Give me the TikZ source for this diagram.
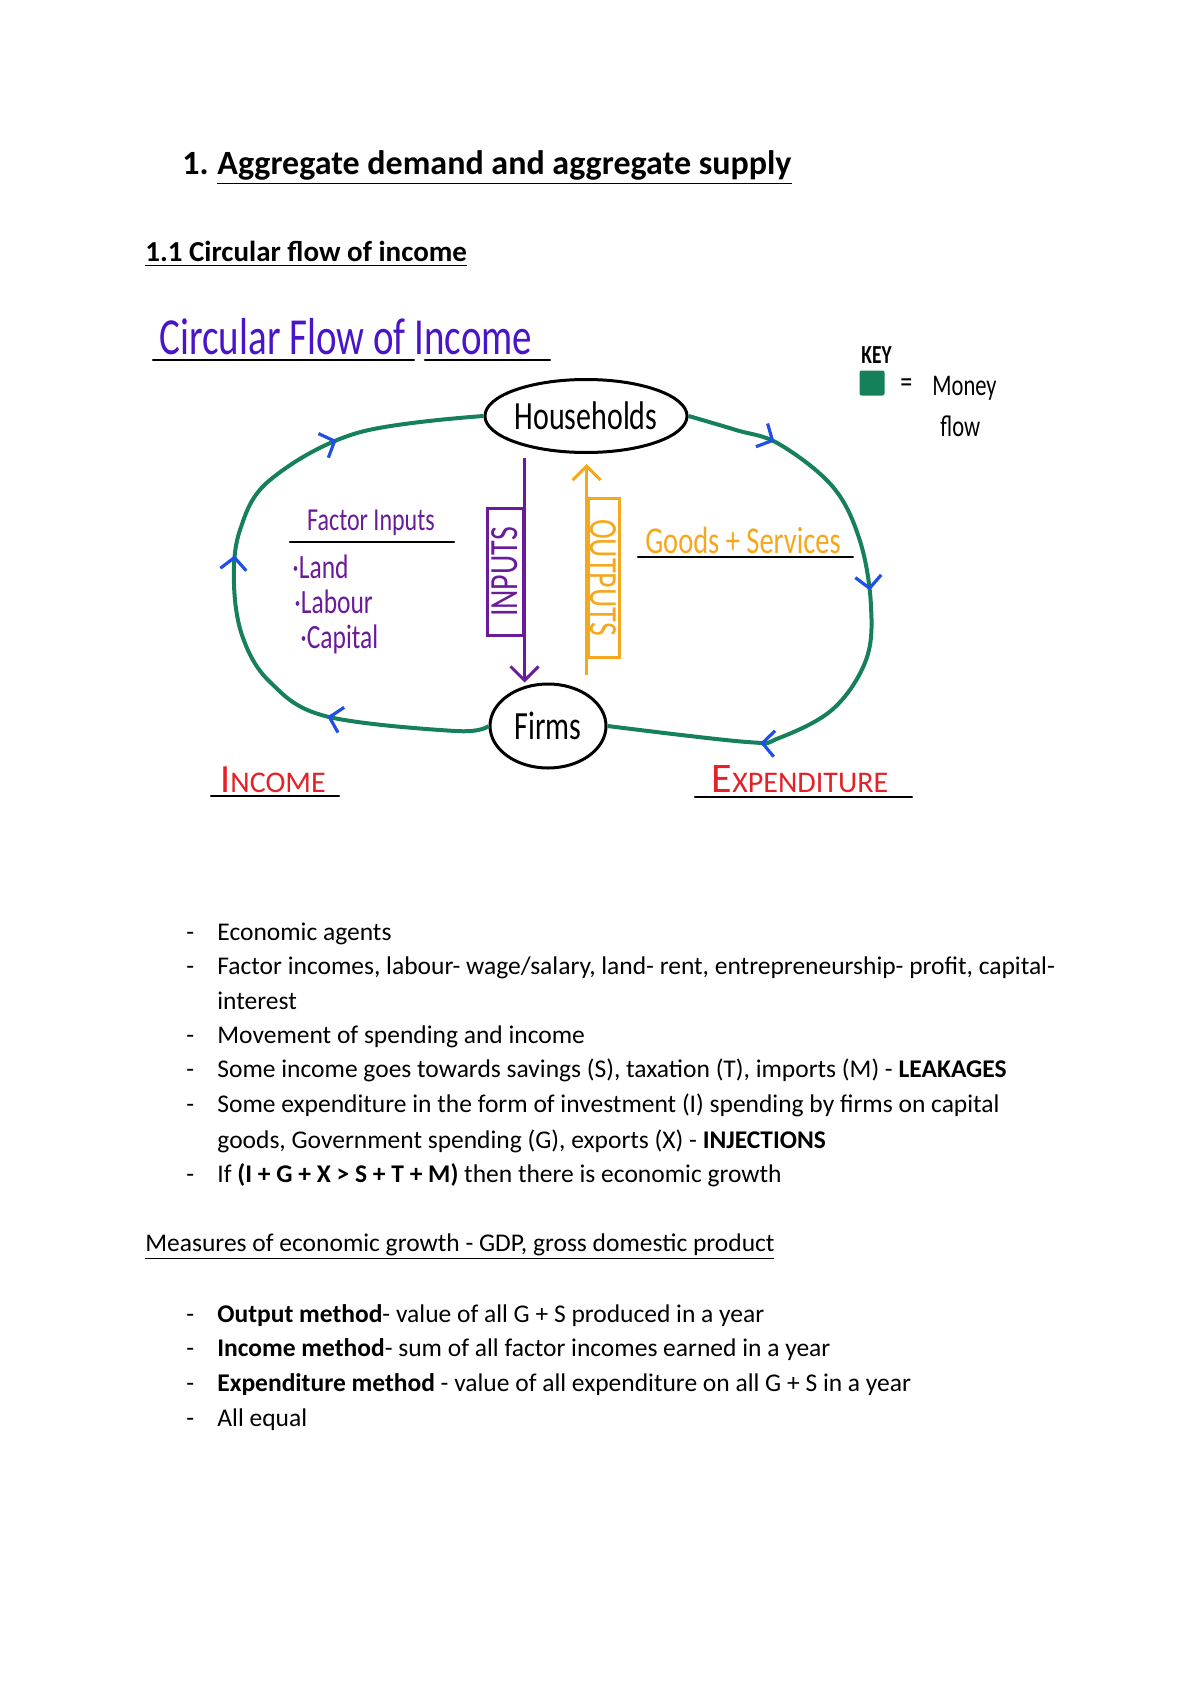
\documentclass[tikz,border=0pt]{standalone}
\usepackage{fontspec}
\setmainfont{Carlito}
\newfontfamily\hand[FakeStretch=0.75]{Carlito}
\usetikzlibrary{shapes.geometric,arrows.meta,decorations.markings}

\definecolor{moneygreen}{HTML}{16805A}
\definecolor{arrowblue}{HTML}{1F4FE6}
\definecolor{inpurple}{HTML}{6A1B9A}
\definecolor{titlepurple}{HTML}{4A14C8}
\definecolor{outorange}{HTML}{F5A81E}
\definecolor{labelred}{HTML}{E32127}

\tikzset{
  txt/.style={anchor=base west,inner sep=0pt,font=\fontsize{12.75}{15}\selectfont},
  blob/.style={draw,ellipse,line width=1.5pt,inner sep=0pt,font=\hand\fontsize{20}{24}\selectfont},
  money/.style={draw=moneygreen,line width=2pt},
  flowtip/.style={postaction={decorate,decoration={markings,
    mark=at position #1 with {\arrow[arrowblue,line width=1.6pt]{Straight Barb[length=6pt,width=13pt]}}}}},
  handlbl/.style={inner sep=0pt,font=\hand\fontsize{#1}{#1}\selectfont},
  uline/.style={line width=1.2pt,line cap=round},
  flowbox/.style={draw,line width=1.5pt,inner sep=0pt,minimum height=#1,font=\hand\fontsize{20}{20}\selectfont}
}

\begin{document}
\begin{tikzpicture}[x=0.5pt,y=-0.5pt]
\useasboundingbox (0,0) rectangle (1200,1696);

% headings
\node[txt,font=\bfseries\fontsize{17}{20}\selectfont] (hnum) at (182,175) {1.};
\node[txt,font=\bfseries\fontsize{17}{20}\selectfont] (htitle) at (217,175) {\underline{Aggregate demand and aggregate supply}};
\node[txt,font=\bfseries\fontsize{14.5}{17}\selectfont] (hsub) at (145,262) {\underline{1.1 Circular flow of income}};

% diagram title and key
\node[handlbl=26,text=titlepurple] (cfi) at (346,337) {Circular Flow of Income};
\draw[uline] (153,360) -- (414,360);
\draw[uline] (425,360) -- (550,360);
\node[handlbl=13,anchor=west,font=\bfseries\hand\fontsize{13}{13}\selectfont] (key) at (861,355) {KEY};
\node[fill=moneygreen,minimum size=12.5pt,inner sep=0pt,rounded corners=1pt] (keysq) at (872,383) {};
\node[handlbl=16,anchor=west] (keyeq) at (900,386) {=};
\node[handlbl=15,anchor=west] (keymoney) at (932,388) {Money};
\node[handlbl=15,anchor=west] (keyflow) at (940,426) {flow};

% agents
\node[blob,minimum width=96.5pt,minimum height=36.5pt] (hh) at (586,416) {Households};
\node[blob,minimum width=58pt,minimum height=42pt] (fi) at (548,726) {Firms};

% money flow loops
\draw[money,flowtip=0.24,flowtip=0.54,flowtip=0.78] plot[smooth,tension=0.6] coordinates
  {(fi.west) (455,731) (325,716) (270,682) (243,638) (234,584) (240,530) (270,480) (357,433) (hh.west)};
\draw[money,flowtip=0.14,flowtip=0.43,flowtip=0.76] plot[smooth,tension=0.6] coordinates
  {(hh.east) (736,430) (779,444) (833,487) (860,541) (871,606) (866,660) (833,709) (779,738) (747,742) (fi.east)};

% real flows
\node[flowbox=18pt,minimum width=63.5pt,rotate=90,draw=inpurple,text=inpurple] (inbox) at (505,572) {INPUTS};
\node[flowbox=15.5pt,minimum width=79.5pt,rotate=-90,draw=outorange,text=outorange] (outbox) at (603.5,577.5) {OUTPUTS};
\draw[inpurple,line width=1.5pt,-{Straight Barb[length=7pt,width=14pt]},shorten <=2pt]
  (hh.south -| inbox.south) -- (fi.north -| inbox.south);
\draw[outorange,line width=1.5pt,-{Straight Barb[length=7pt,width=14pt]},shorten <=4pt,shorten >=5pt]
  (fi.north -| outbox.south) -- (hh.south -| outbox.south);

% labels
\node[handlbl=16,text=inpurple] (factor) at (371,523) {Factor Inputs};
\draw[uline] (290,542) -- (454,542);
\node[inner sep=0pt,text=inpurple,align=left,anchor=north west,font=\hand\fontsize{17}{17.5}\selectfont] (factorlist) at (292,554)
  {·Land\\ \hspace{1pt}·Labour\\ \hspace{4pt}·Capital};
\node[handlbl=19,text=outorange] (goods) at (743,540) {Goods + Services};
\draw[uline] (638,557) -- (853,557);
\node[inner sep=0pt,text=labelred,font=\fontsize{15}{15}\selectfont] (income) at (273,780) {{\fontsize{20}{20}\selectfont I}NCOME};
\draw[uline] (211,796) -- (339,796);
\node[inner sep=0pt,text=labelred,font=\fontsize{15}{15}\selectfont] (expend) at (800,779) {{\fontsize{21}{21}\selectfont E}XPENDITURE};
\draw[uline] (695,797) -- (912,797);

% notes
\foreach \y [count=\i] in {940,974,1043,1077,1112,1182}
  \node[txt] (dash\i) at (186,\y) {-};
\node[txt] (b1) at (217,940) {Economic agents};
\node[txt] (b2) at (217,974) {Factor incomes, labour- wage/salary, land- rent, entrepreneurship- profit, capital-};
\node[txt] (b2b) at (217,1009) {interest};
\node[txt] (b3) at (217,1043) {Movement of spending and income};
\node[txt] (b4) at (217,1077) {Some income goes towards savings (S), taxation (T), imports (M) - \textbf{LEAKAGES}};
\node[txt] (b5) at (217,1112) {Some expenditure in the form of investment (I) spending by firms on capital};
\node[txt] (b5b) at (217,1148) {goods, Government spending (G), exports (X) - \textbf{INJECTIONS}};
\node[txt] (b6) at (217,1182) {If \textbf{(I + G + X {\char`\>} S + T + M)} then there is economic growth};

\node[txt] (gdp) at (145,1251) {\underline{Measures of economic growth - GDP, gross domestic product}};
\foreach \y [count=\i] in {1322,1356,1391,1426}
  \node[txt] (mdash\i) at (186,\y) {-};
\node[txt] (m1) at (217,1322) {\textbf{Output method}- value of all G + S produced in a year};
\node[txt] (m2) at (217,1356) {\textbf{Income method}- sum of all factor incomes earned in a year};
\node[txt] (m3) at (217,1391) {\textbf{Expenditure method} - value of all expenditure on all G + S in a year};
\node[txt] (m4) at (217,1426) {All equal};
\end{tikzpicture}
\end{document}
